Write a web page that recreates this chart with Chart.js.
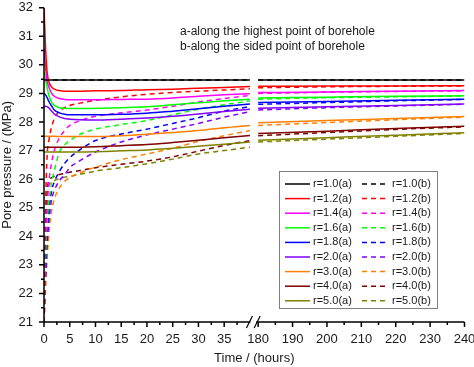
<!DOCTYPE html>
<html>
<head>
<meta charset="utf-8">
<script src="https://cdn.jsdelivr.net/npm/chart.js@4.4.0/dist/chart.umd.min.js"></script>
<style>
  html, body { margin: 0; padding: 0; background: #fff; }
  #wrap { width: 474px; height: 367px; position: relative; }
</style>
</head>
<body>
<div id="wrap"><canvas id="chart"></canvas></div>
<script>
// ============================================
// DATA
// ============================================

// sample times (hours), shared by every curve
const times = [0, 0.3, 0.6, 1, 1.5, 2, 3, 4, 5, 7, 10, 15, 20, 25, 30, 35, 40, 180, 200, 220, 240];

const radii = ['1.0', '1.2', '1.4', '1.6', '1.8', '2.0', '3.0', '4.0', '5.0'];
const colors = ['#000000', '#ff0000', '#ff00ff', '#00ff00', '#0000ff', '#8000ff', '#ff8000', '#800000', '#808000'];

// a - along the highest point of borehole (solid)
const r10a = [29.47, 29.47, 29.47, 29.47, 29.47, 29.47, 29.47, 29.47, 29.47, 29.47, 29.47, 29.47, 29.47, 29.47, 29.47, 29.47, 29.47, 29.47, 29.47, 29.47, 29.47];
const r12a = [32.0, 30.6, 29.75, 29.38, 29.22, 29.15, 29.1, 29.08, 29.08, 29.08, 29.09, 29.1, 29.13, 29.15, 29.18, 29.21, 29.24, 29.25, 29.26, 29.26, 29.27];
const r14a = [30.6, 29.9, 29.45, 29.2, 29.0, 28.9, 28.82, 28.79, 28.78, 28.78, 28.78, 28.79, 28.8, 28.84, 28.9, 28.95, 28.99, 29.03, 29.05, 29.08, 29.1];
const r16a = [29.75, 29.5, 29.2, 28.9, 28.68, 28.58, 28.5, 28.48, 28.47, 28.47, 28.48, 28.5, 28.53, 28.6, 28.67, 28.74, 28.8, 28.84, 28.87, 28.9, 28.92];
const r18a = [29.0, 28.95, 28.85, 28.7, 28.55, 28.42, 28.32, 28.27, 28.25, 28.25, 28.25, 28.27, 28.31, 28.38, 28.46, 28.55, 28.63, 28.68, 28.72, 28.76, 28.8];
const r20a = [28.52, 28.55, 28.54, 28.48, 28.38, 28.28, 28.18, 28.12, 28.1, 28.08, 28.07, 28.1, 28.14, 28.2, 28.28, 28.37, 28.45, 28.48, 28.53, 28.58, 28.63];
const r30a = [27.5, 27.5, 27.5, 27.5, 27.5, 27.5, 27.49, 27.49, 27.49, 27.49, 27.49, 27.52, 27.57, 27.63, 27.7, 27.8, 27.88, 27.97, 28.05, 28.12, 28.19];
const r40a = [27.12, 27.12, 27.12, 27.12, 27.12, 27.12, 27.12, 27.12, 27.12, 27.12, 27.13, 27.17, 27.21, 27.28, 27.36, 27.45, 27.53, 27.6, 27.68, 27.77, 27.85];
const r50a = [26.95, 26.95, 26.95, 26.95, 26.95, 26.95, 26.95, 26.95, 26.95, 26.95, 26.96, 26.99, 27.02, 27.08, 27.15, 27.22, 27.3, 27.36, 27.45, 27.54, 27.62];

// b - along the sided point of borehole (dashed)
const r10b = [29.47, 29.47, 29.47, 29.47, 29.47, 29.47, 29.47, 29.47, 29.47, 29.47, 29.47, 29.47, 29.47, 29.47, 29.47, 29.47, 29.47, 29.47, 29.47, 29.47, 29.47];
const r12b = [21.0, 25.0, 26.8, 27.4, 27.85, 28.12, 28.38, 28.5, 28.58, 28.66, 28.76, 28.88, 28.97, 29.03, 29.08, 29.12, 29.16, 29.2, 29.23, 29.25, 29.26];
const r14b = [21.0, 23.6, 25.0, 26.0, 26.6, 27.0, 27.45, 27.7, 27.88, 28.05, 28.2, 28.32, 28.42, 28.55, 28.7, 28.82, 28.93, 29.0, 29.04, 29.07, 29.09];
const r16b = [21.0, 23.2, 24.5, 25.3, 25.9, 26.3, 26.95, 27.2, 27.35, 27.57, 27.75, 27.91, 28.05, 28.25, 28.45, 28.6, 28.74, 28.8, 28.85, 28.88, 28.91];
const r18b = [21.0, 22.8, 24.0, 25.0, 25.6, 25.9, 26.27, 26.55, 26.75, 27.03, 27.35, 27.58, 27.75, 27.95, 28.15, 28.38, 28.54, 28.62, 28.68, 28.74, 28.79];
const r20b = [21.0, 22.5, 23.7, 24.6, 25.3, 25.6, 25.95, 26.15, 26.4, 26.65, 26.95, 27.3, 27.55, 27.75, 27.95, 28.17, 28.36, 28.42, 28.5, 28.56, 28.62];
const r30b = [21.0, 22.2, 23.2, 24.2, 24.9, 25.3, 25.7, 25.92, 26.05, 26.22, 26.42, 26.68, 26.88, 27.08, 27.32, 27.52, 27.7, 27.88, 27.98, 28.08, 28.17];
const r40b = [21.0, 24.0, 25.5, 25.95, 26.05, 26.1, 26.16, 26.2, 26.24, 26.3, 26.4, 26.52, 26.63, 26.78, 26.98, 27.18, 27.35, 27.52, 27.63, 27.74, 27.83];
const r50b = [21.0, 23.8, 25.3, 25.8, 25.9, 25.95, 26.02, 26.07, 26.1, 26.17, 26.28, 26.4, 26.54, 26.7, 26.88, 27.0, 27.12, 27.3, 27.4, 27.5, 27.6];

const seriesA = [r10a, r12a, r14a, r16a, r18a, r20a, r30a, r40a, r50a];
const seriesB = [r10b, r12b, r14b, r16b, r18b, r20b, r30b, r40b, r50b];

// tick labels
const xTickLabels = [0, 5, 10, 15, 20, 25, 30, 35, 180, 190, 200, 210, 220, 230, 240];
const xMinorLeft = [2.5, 7.5, 12.5, 17.5, 22.5, 27.5, 32.5, 37.5];
const xMinorRight = [185, 195, 205, 215, 225, 235];
const yMin = 21, yMax = 32;

const noteLines = ['a-along the highest point of borehole', 'b-along the sided point of borehole'];

// ============================================
// BROKEN X AXIS (0-40 | 180-240)
// ============================================

const LEFT_END = 40, RIGHT_START = 180, RIGHT_OFFSET = 41.6, RIGHT_SCALE = 0.668;

function toAxis(t) {
    return t <= LEFT_END ? t : RIGHT_OFFSET + (t - RIGHT_START) * RIGHT_SCALE;
}

function toPoints(values) {
    const pts = [];
    times.forEach((t, i) => {
        pts.push({ x: toAxis(t), y: values[i] });
        if (t === LEFT_END) pts.push({ x: (LEFT_END + RIGHT_OFFSET) / 2, y: null });
    });
    return pts;
}

const datasets = [];
seriesA.forEach((vals, i) => {
    datasets.push({
        label: 'r=' + radii[i] + '(a)',
        data: toPoints(vals),
        borderColor: colors[i],
        borderWidth: 1.5,
        pointRadius: 0,
        cubicInterpolationMode: 'monotone',
        order: 0,
        group: 'a'
    });
});
seriesB.forEach((vals, i) => {
    datasets.push({
        label: 'r=' + radii[i] + '(b)',
        data: toPoints(vals),
        borderColor: colors[i],
        borderWidth: 1.5,
        borderDash: [5, 4],
        pointRadius: 0,
        cubicInterpolationMode: 'monotone',
        order: 1,
        group: 'b'
    });
});

const FONT = 'Arial, "Liberation Sans", sans-serif';
const TEXT_COLOR = '#1a1a1a';

// ============================================
// AXES, TICKS, NOTE AND LEGEND
// ============================================

const decorPlugin = {
    id: 'decor',
    afterDraw(chart) {
        const ctx = chart.ctx;
        const xs = chart.scales.x, ys = chart.scales.y;
        const area = chart.chartArea;
        const x0 = xs.getPixelForValue(0);
        const yB = area.bottom;

        ctx.save();
        ctx.strokeStyle = '#000';
        ctx.lineWidth = 1.5;

        // y axis line + ticks
        ctx.beginPath();
        ctx.moveTo(x0, area.top);
        ctx.lineTo(x0, yB);
        for (let v = yMin; v <= yMax; v += 0.5) {
            const py = ys.getPixelForValue(v);
            const len = Number.isInteger(v) ? 5 : 3;
            ctx.moveTo(x0 - len, py);
            ctx.lineTo(x0, py);
        }
        ctx.stroke();

        // x axis in two pieces with a break
        const leftEnd = xs.getPixelForValue(LEFT_END) + 0.5;
        const rightStart = xs.getPixelForValue(RIGHT_OFFSET) - 2;
        ctx.beginPath();
        ctx.moveTo(x0, yB);
        ctx.lineTo(leftEnd, yB);
        ctx.moveTo(rightStart, yB);
        ctx.lineTo(area.right, yB);
        xTickLabels.forEach(t => {
            const px = xs.getPixelForValue(toAxis(t));
            ctx.moveTo(px, yB);
            ctx.lineTo(px, yB + 5);
        });
        xMinorLeft.concat(xMinorRight).forEach(t => {
            const px = xs.getPixelForValue(toAxis(t));
            ctx.moveTo(px, yB);
            ctx.lineTo(px, yB + 3);
        });
        ctx.stroke();

        // break marks "//"
        ctx.lineWidth = 1.2;
        ctx.beginPath();
        [leftEnd - 1, rightStart + 1].forEach(bx => {
            ctx.moveTo(bx - 3, yB + 6);
            ctx.lineTo(bx + 3, yB - 6);
        });
        ctx.stroke();

        // note text
        ctx.fillStyle = TEXT_COLOR;
        ctx.font = '12px ' + FONT;
        ctx.textBaseline = 'middle';
        ctx.textAlign = 'left';
        noteLines.forEach((line, i) => ctx.fillText(line, 180, 32 + i * 15));

        // legend box
        const lx = 279.5, ly = 171.5, lw = 158, lh = 137;
        ctx.fillStyle = '#fff';
        ctx.fillRect(lx, ly, lw, lh);
        ctx.strokeStyle = '#808080';
        ctx.lineWidth = 1;
        ctx.strokeRect(lx, ly, lw, lh);

        ctx.font = '11px ' + FONT;
        const rows = chart.data.datasets.filter(d => d.group === 'a');
        const rowsB = chart.data.datasets.filter(d => d.group === 'b');
        rows.forEach((ds, i) => {
            const ry = 184 + i * 14.6;
            const dsB = rowsB[i];
            ctx.lineWidth = 1.5;
            ctx.strokeStyle = ds.borderColor;
            ctx.setLineDash([]);
            ctx.beginPath();
            ctx.moveTo(285, ry);
            ctx.lineTo(310, ry);
            ctx.stroke();
            ctx.strokeStyle = dsB.borderColor;
            ctx.setLineDash([5, 4]);
            ctx.beginPath();
            ctx.moveTo(362, ry);
            ctx.lineTo(388, ry);
            ctx.stroke();
            ctx.setLineDash([]);
            ctx.fillStyle = TEXT_COLOR;
            ctx.fillText(ds.label, 313, ry);
            ctx.fillText(dsB.label, 392, ry);
        });
        ctx.restore();
    }
};

// ============================================
// CHART
// ============================================

new Chart(document.getElementById('chart'), {
    type: 'line',
    data: { datasets: datasets },
    options: {
        responsive: true,
        maintainAspectRatio: false,
        animation: false,
        events: [],
        layout: { padding: { top: 7.7, right: 9.5, left: 0, bottom: 0 } },
        plugins: {
            legend: { display: false },
            tooltip: { enabled: false }
        },
        scales: {
            x: {
                type: 'linear',
                min: 0,
                max: toAxis(240),
                grid: { display: false, drawTicks: false },
                border: { display: false },
                afterBuildTicks: scale => {
                    scale.ticks = xTickLabels.map(t => ({ value: toAxis(t) }));
                },
                afterFit: scale => {
                    scale.height = 45;
                    scale.paddingLeft = 0;
                    scale.paddingRight = 0;
                },
                ticks: {
                    autoSkip: false,
                    maxRotation: 0,
                    padding: 10,
                    color: TEXT_COLOR,
                    font: { family: FONT, size: 13 },
                    callback: (value, index) => xTickLabels[index]
                },
                title: {
                    display: true,
                    text: 'Time / (hours)',
                    color: TEXT_COLOR,
                    font: { family: FONT, size: 13 },
                    padding: { top: 0, bottom: 1 }
                }
            },
            y: {
                min: yMin,
                max: yMax,
                grid: { display: false, drawTicks: false },
                border: { display: false },
                afterFit: scale => {
                    scale.width = 44;
                    scale.paddingTop = 0;
                    scale.paddingBottom = 0;
                },
                ticks: {
                    stepSize: 1,
                    padding: 11,
                    color: TEXT_COLOR,
                    font: { family: FONT, size: 13 }
                },
                title: {
                    display: true,
                    text: 'Pore pressure / (MPa)',
                    color: TEXT_COLOR,
                    font: { family: FONT, size: 13 },
                    padding: { top: 0, bottom: 0 }
                }
            }
        }
    },
    plugins: [decorPlugin]
});
</script>
</body>
</html>
